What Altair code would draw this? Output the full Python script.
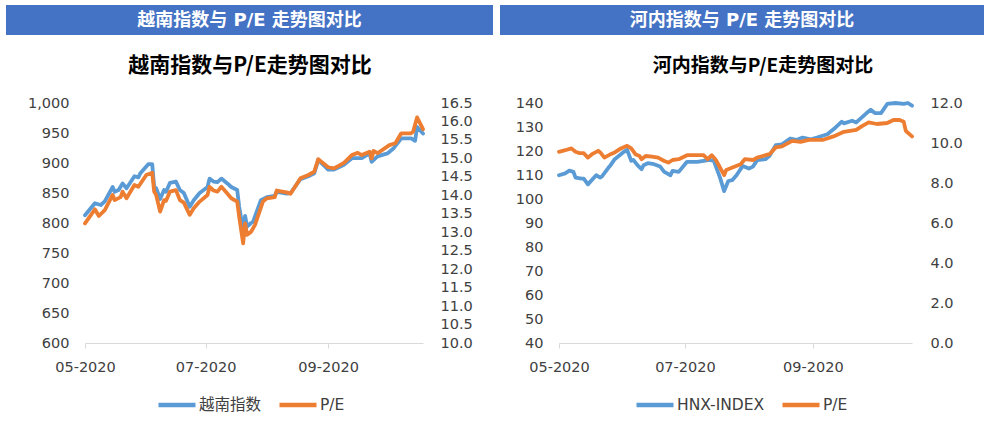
import altair as alt
import pandas as pd

BLUE = "#5B9BD5"
ORANGE = "#ED7D31"
HEADER_BLUE = "#4472C4"
TEXT = "#404040"
AXIS_GREY = "#D9D9D9"
FONT = "DejaVu Sans, Noto Sans CJK SC, sans-serif"
CJK_FONT = "Noto Sans CJK SC, sans-serif"

# ---- VN-Index and its P/E ----
vn_dates = [
    "2020-05-04", "2020-05-09", "2020-05-12", "2020-05-14", "2020-05-18", "2020-05-19",
    "2020-05-21", "2020-05-23", "2020-05-25", "2020-05-29", "2020-05-31", "2020-06-01",
    "2020-06-05", "2020-06-07", "2020-06-08", "2020-06-09", "2020-06-11", "2020-06-13",
    "2020-06-14", "2020-06-16", "2020-06-19", "2020-06-21", "2020-06-23", "2020-06-26",
    "2020-06-28", "2020-07-01", "2020-07-05", "2020-07-06", "2020-07-08", "2020-07-10",
    "2020-07-12", "2020-07-15", "2020-07-17", "2020-07-20", "2020-07-21", "2020-07-23",
    "2020-07-24", "2020-07-25", "2020-07-27", "2020-07-28", "2020-08-01", "2020-08-04",
    "2020-08-08", "2020-08-09", "2020-08-14", "2020-08-16", "2020-08-21", "2020-08-25",
    "2020-08-28", "2020-08-30", "2020-09-04", "2020-09-07", "2020-09-12", "2020-09-16",
    "2020-09-21", "2020-09-25", "2020-09-26", "2020-09-29", "2020-10-04", "2020-10-07",
    "2020-10-11", "2020-10-16", "2020-10-18", "2020-10-19", "2020-10-22",
]
vn_index = [
    813, 833, 830, 836, 860, 852, 855, 866, 858, 878, 876, 883, 898, 898, 860, 858, 840,
    855, 852, 867, 869, 855, 850, 827, 838, 850, 860, 874, 869, 868, 874, 866, 860, 855,
    827, 788, 812, 794, 800, 802, 838, 843, 845, 852, 849, 850, 873, 878, 883, 905, 889,
    889, 897, 908, 908, 916, 902, 911, 916, 924, 941, 941, 937, 960, 949,
]
vn_pe_dates = [
    "2020-05-04", "2020-05-09", "2020-05-11", "2020-05-14", "2020-05-18", "2020-05-19",
    "2020-05-22", "2020-05-23", "2020-05-25", "2020-05-29", "2020-05-31", "2020-06-04",
    "2020-06-07", "2020-06-08", "2020-06-09", "2020-06-11", "2020-06-13", "2020-06-14",
    "2020-06-16", "2020-06-19", "2020-06-21", "2020-06-23", "2020-06-26", "2020-06-28",
    "2020-07-01", "2020-07-05", "2020-07-06", "2020-07-08", "2020-07-10", "2020-07-12",
    "2020-07-15", "2020-07-17", "2020-07-20", "2020-07-21", "2020-07-23", "2020-07-24",
    "2020-07-25", "2020-07-27", "2020-07-29", "2020-08-02", "2020-08-04", "2020-08-08",
    "2020-08-09", "2020-08-14", "2020-08-16", "2020-08-21", "2020-08-25", "2020-08-28",
    "2020-08-30", "2020-09-04", "2020-09-07", "2020-09-12", "2020-09-16", "2020-09-19",
    "2020-09-21", "2020-09-25", "2020-09-26", "2020-09-27", "2020-09-29", "2020-10-05",
    "2020-10-08", "2020-10-11", "2020-10-16", "2020-10-17", "2020-10-19", "2020-10-22",
]
vn_pe = [
    13.24, 13.62, 13.44, 13.60, 14.01, 13.87, 13.95, 14.10, 13.92, 14.28, 14.23, 14.55,
    14.61, 14.10, 14.01, 13.56, 13.87, 13.85, 14.10, 14.14, 13.87, 13.80, 13.47, 13.65,
    13.83, 14.01, 14.23, 14.13, 14.10, 14.23, 14.05, 13.92, 13.83, 13.42, 12.70, 13.24,
    12.93, 13.01, 13.20, 13.83, 13.92, 13.95, 14.13, 14.08, 14.04, 14.46, 14.55, 14.64,
    14.98, 14.76, 14.73, 14.88, 15.09, 15.15, 15.09, 15.18, 15.00, 15.20, 15.14, 15.36,
    15.41, 15.68, 15.68, 15.72, 16.11, 15.79,
]

# ---- HNX-Index and its P/E ----
hnx_dates = [
    "2020-05-04", "2020-05-07", "2020-05-09", "2020-05-11", "2020-05-12", "2020-05-15",
    "2020-05-16", "2020-05-18", "2020-05-22", "2020-05-24", "2020-05-25", "2020-05-28",
    "2020-05-29", "2020-05-31", "2020-06-04", "2020-06-06", "2020-06-08", "2020-06-09",
    "2020-06-11", "2020-06-13", "2020-06-14", "2020-06-16", "2020-06-19", "2020-06-22",
    "2020-06-24", "2020-06-27", "2020-06-28", "2020-07-01", "2020-07-05", "2020-07-10",
    "2020-07-13", "2020-07-16", "2020-07-18", "2020-07-21", "2020-07-23", "2020-07-25",
    "2020-07-27", "2020-07-29", "2020-08-01", "2020-08-04", "2020-08-06", "2020-08-08",
    "2020-08-12", "2020-08-14", "2020-08-17", "2020-08-20", "2020-08-24", "2020-08-27",
    "2020-08-30", "2020-09-03", "2020-09-06", "2020-09-11", "2020-09-15", "2020-09-18",
    "2020-09-19", "2020-09-23", "2020-09-25", "2020-09-30", "2020-10-02", "2020-10-04",
    "2020-10-07", "2020-10-10", "2020-10-14", "2020-10-18", "2020-10-20", "2020-10-22",
]
hnx_index = [
    109.9, 110.7, 111.8, 111.3, 108.9, 108.5, 108.5, 106.1, 109.9, 108.9, 109.6, 113.1,
    114.1, 116.6, 119.4, 120.5, 115.9, 116.3, 114.1, 112.4, 114.1, 114.9, 114.5, 113.5,
    111.3, 109.9, 111.7, 111.3, 115.5, 115.5, 115.9, 116.3, 115.9, 108.9, 103.3, 107.5,
    107.9, 109.9, 113.8, 112.7, 113.5, 116.2, 116.6, 118.0, 122.4, 122.8, 125.2, 124.6,
    125.6, 124.9, 125.6, 127.0, 129.8, 132.2, 131.5, 132.6, 131.9, 135.8, 137.2, 135.8,
    135.8, 139.6, 140.0, 139.6, 140.0, 138.9,
]
hnx_pe_dates = [
    "2020-05-04", "2020-05-07", "2020-05-10", "2020-05-12", "2020-05-14", "2020-05-16",
    "2020-05-18", "2020-05-20", "2020-05-23", "2020-05-24", "2020-05-26", "2020-05-29",
    "2020-05-31", "2020-06-03", "2020-06-06", "2020-06-08", "2020-06-10", "2020-06-12",
    "2020-06-13", "2020-06-15", "2020-06-18", "2020-06-21", "2020-06-24", "2020-06-26",
    "2020-06-28", "2020-07-01", "2020-07-05", "2020-07-10", "2020-07-13", "2020-07-15",
    "2020-07-17", "2020-07-19", "2020-07-23", "2020-07-24", "2020-07-27", "2020-07-31",
    "2020-08-02", "2020-08-06", "2020-08-08", "2020-08-12", "2020-08-14", "2020-08-17",
    "2020-08-20", "2020-08-25", "2020-08-29", "2020-09-02", "2020-09-09", "2020-09-14",
    "2020-09-19", "2020-09-25", "2020-09-28", "2020-10-01", "2020-10-05", "2020-10-10",
    "2020-10-13", "2020-10-16", "2020-10-18", "2020-10-19", "2020-10-22",
]
hnx_pe = [
    9.56, 9.64, 9.73, 9.56, 9.49, 9.49, 9.27, 9.44, 9.61, 9.53, 9.27, 9.44,
    9.53, 9.73, 9.86, 9.73, 9.44, 9.35, 9.19, 9.35, 9.32, 9.27, 9.10, 9.02,
    9.15, 9.19, 9.39, 9.39, 9.39, 9.19, 9.39, 9.15, 8.39, 8.65, 8.77, 8.94,
    9.19, 9.15, 9.27, 9.39, 9.44, 9.78, 9.83, 10.11, 10.06, 10.16, 10.16, 10.33,
    10.56, 10.66, 10.86, 11.03, 10.95, 11.00, 11.15, 11.15, 11.06, 10.61, 10.33,
]


def day(month, date):
    return alt.DateTime(year=2020, month=month, date=date, utc=True)


X_DOMAIN = [day(5, 4), day(10, 22)]
X_TICKS = [day(5, 4), day(7, 4), day(9, 4)]


def x_enc():
    return alt.X(
        "date:T",
        title=None,
        scale=alt.Scale(type="utc", domain=X_DOMAIN, nice=False),
        axis=alt.Axis(
            values=X_TICKS, labelExpr="utcFormat(datum.value, '%m-%Y')",
            labelFlush=False, grid=False, domainColor=AXIS_GREY,
            tickColor=AXIS_GREY, tickSize=5,
            labelFont=FONT, labelFontSize=14.5, labelColor=TEXT, labelPadding=12,
        ),
    )


def panel(index_name, idx_dates, idx_vals, pe_dates, pe_vals,
          left_dom, left_ticks, left_fmt, right_dom, right_ticks, right_pad,
          plot_w, header_text, header_left, header_right, title_text,
          title_x, title_size, legend_x):
    idx_df = pd.DataFrame({"date": idx_dates, "value": idx_vals, "series": index_name})
    pe_df = pd.DataFrame({"date": pe_dates, "value": pe_vals, "series": "P/E"})
    color = alt.Color(
        "series:N", title=None,
        scale=alt.Scale(domain=[index_name, "P/E"], range=[BLUE, ORANGE]),
        legend=alt.Legend(
            orient="none", legendX=legend_x, legendY=281, direction="horizontal",
            symbolType="stroke", symbolSize=1369, symbolStrokeWidth=4.5,
            labelFont=FONT, labelFontSize=15.5, labelColor=TEXT,
            labelOffset=1, columnPadding=8,
        ),
    )
    line_style = dict(strokeWidth=3.8, strokeJoin="round", strokeCap="round")

    idx_line = alt.Chart(idx_df).mark_line(**line_style).encode(
        x=x_enc(),
        y=alt.Y("value:Q", title=None,
                scale=alt.Scale(domain=left_dom, nice=False, zero=False),
                axis=alt.Axis(orient="left", values=left_ticks, format=left_fmt,
                              domain=False, ticks=False, grid=False, labelPadding=16,
                              labelFont=FONT, labelFontSize=14.5, labelColor=TEXT)),
        color=color,
    )
    pe_line = alt.Chart(pe_df).mark_line(**line_style).encode(
        x=alt.X("date:T"),
        y=alt.Y("value:Q", title=None,
                scale=alt.Scale(domain=right_dom, nice=False, zero=False),
                axis=alt.Axis(orient="right", values=right_ticks, format=".1f",
                              domain=False, ticks=False, grid=False,
                              labelPadding=right_pad, labelFont=FONT,
                              labelFontSize=14.5, labelColor=TEXT)),
        color=color,
    )

    deco = pd.DataFrame({"k": [0]})
    header_bar = alt.Chart(deco).mark_rect(color=HEADER_BLUE).encode(
        x=alt.value(header_left), x2=alt.value(header_right),
        y=alt.value(-98), y2=alt.value(-68),
    )
    header_label = alt.Chart(deco).mark_text(
        font=FONT, fontSize=18, fontWeight="bold", color="white",
        align="center", baseline="middle",
    ).encode(
        x=alt.value((header_left + header_right) / 2), y=alt.value(-82),
        text=alt.value(header_text),
    )
    title_label = alt.Chart(deco).mark_text(
        font=CJK_FONT, fontSize=title_size, fontWeight="bold", color="black",
        align="center", baseline="middle",
    ).encode(
        x=alt.value(title_x), y=alt.value(-37), text=alt.value(title_text),
    )

    return alt.layer(
        header_bar, header_label, title_label, idx_line, pe_line
    ).resolve_scale(y="independent").properties(width=plot_w, height=240)


left = panel(
    "越南指数", vn_dates, vn_index, vn_pe_dates, vn_pe,
    [600, 1000], list(range(600, 1001, 50)), ",.0f",
    [10, 16.5], [10 + 0.5 * i for i in range(14)], 17,
    338, "越南指数与 P/E 走势图对比", -79, 408,
    "越南指数与P/E走势图对比", 165, 21, 71,
)
right = panel(
    "HNX-INDEX", hnx_dates, hnx_index, hnx_pe_dates, hnx_pe,
    [40, 140], list(range(40, 141, 10)), "d",
    [0, 12], [0, 2, 4, 6, 8, 10, 12], 18,
    353, "河内指数与 P/E 走势图对比", -59, 425,
    "河内指数与P/E走势图对比", 204, 19, 75,
)

chart = alt.hconcat(left, right, spacing=7).resolve_scale(color="independent").properties(
    padding={"left": 6, "top": 5, "right": 5, "bottom": 5},
    background="white",
).configure_view(strokeWidth=0)

chart.save("out.html", embed_options={"renderer": "svg", "actions": False})
